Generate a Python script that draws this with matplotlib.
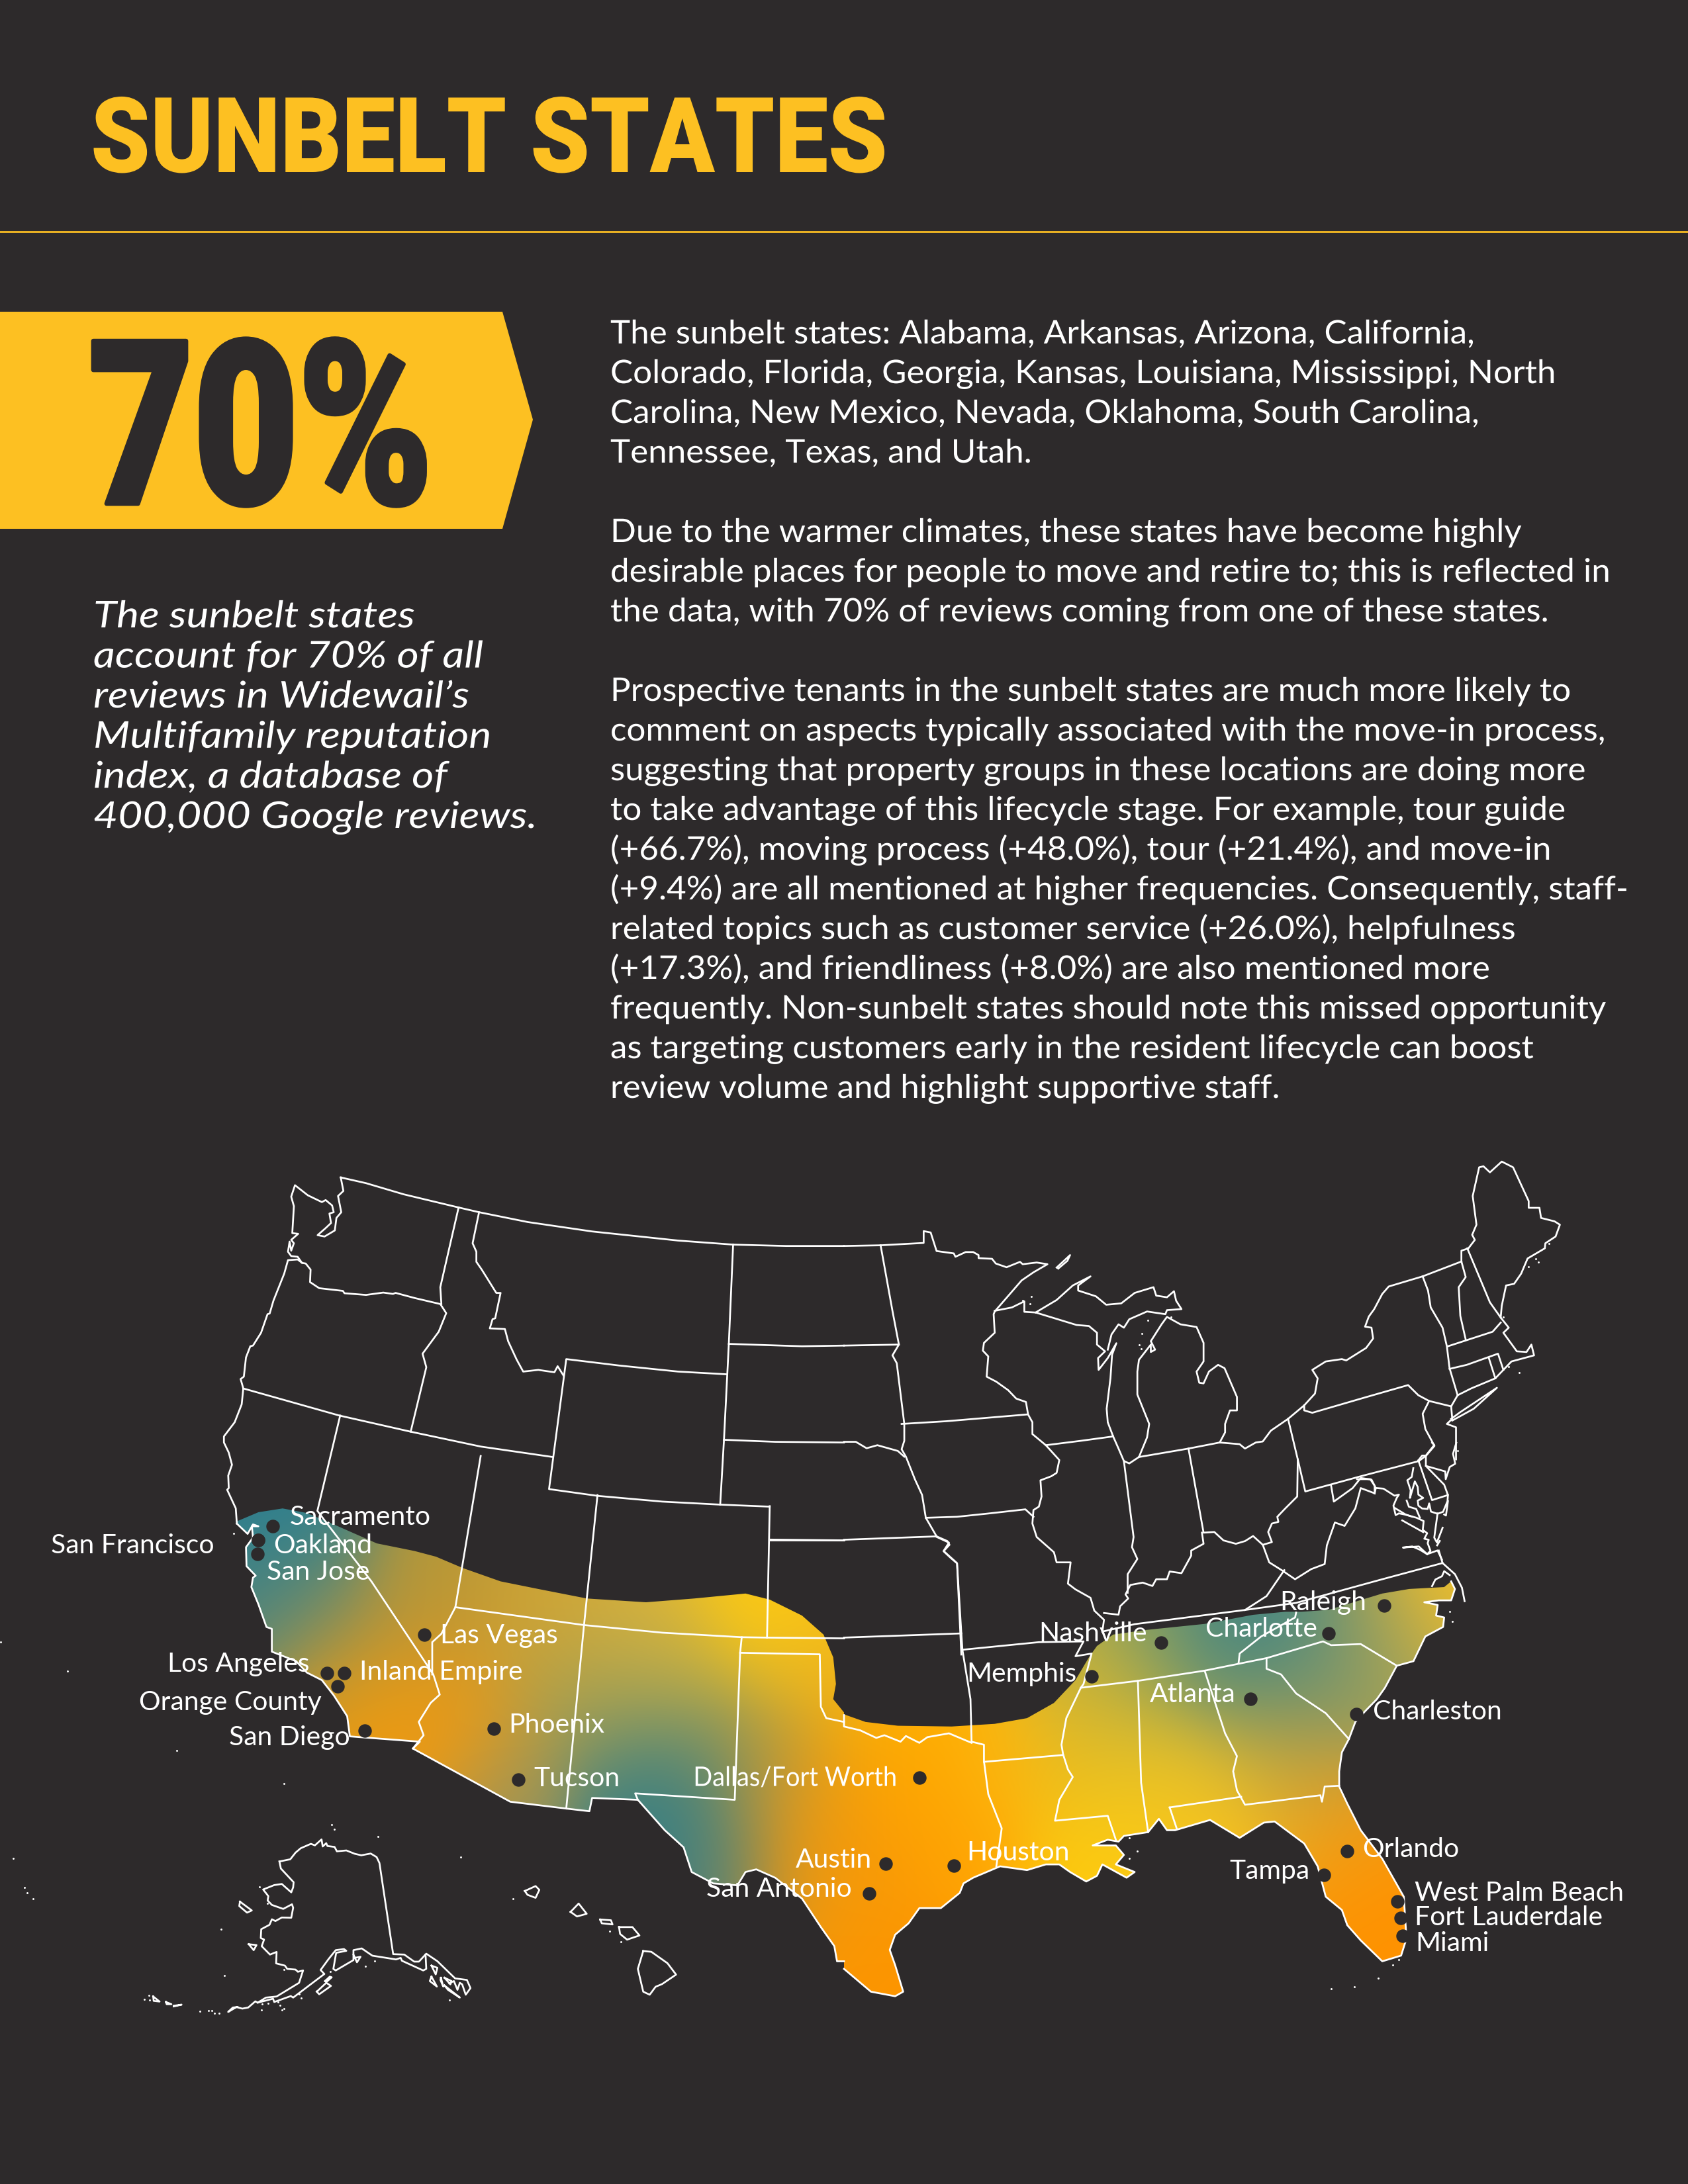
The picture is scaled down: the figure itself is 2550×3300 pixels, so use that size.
import numpy as np
import matplotlib
matplotlib.use("Agg")
from matplotlib import pyplot as plt
from matplotlib.patches import PathPatch, Polygon
from matplotlib.patheffects import AbstractPathEffect
from matplotlib.path import Path
from matplotlib.transforms import Affine2D

BACKGROUND = "#2d2a2b"
GOLD = "#fdc022"

TITLE = "SUNBELT STATES"
BIG_NUMBER = "70%"

BODY_LINES = [
    "The sunbelt states: Alabama, Arkansas, Arizona, California,",
    "Colorado, Florida, Georgia, Kansas, Louisiana, Mississippi, North",
    "Carolina, New Mexico, Nevada, Oklahoma, South Carolina,",
    "Tennessee, Texas, and Utah.",
    "",
    "Due to the warmer climates, these states have become highly",
    "desirable places for people to move and retire to; this is reflected in",
    "the data, with 70% of reviews coming from one of these states.",
    "",
    "Prospective tenants in the sunbelt states are much more likely to",
    "comment on aspects typically associated with the move-in process,",
    "suggesting that property groups in these locations are doing more",
    "to take advantage of this lifecycle stage. For example, tour guide",
    "(+66.7%), moving process (+48.0%), tour (+21.4%), and move-in",
    "(+9.4%) are all mentioned at higher frequencies. Consequently, staff-",
    "related topics such as customer service (+26.0%), helpfulness",
    "(+17.3%), and friendliness (+8.0%) are also mentioned more",
    "frequently. Non-sunbelt states should note this missed opportunity",
    "as targeting customers early in the resident lifecycle can boost",
    "review volume and highlight supportive staff.",
]

CALLOUT_LINES = [
    "The sunbelt states",
    "account for 70% of all",
    "reviews in Widewail\u2019s",
    "Multifamily reputation",
    "index, a database of",
    "400,000 Google reviews.",
]

# Map outlines, digitised on survey sheets (a, b: north, c, d: south, e: Alaska, f: Chesapeake)
# a: north-west
A_NORTH_BORDER = [(633,155),(680,172),(750,205),(852,244),(890,258),(980,287),(1100,315),(1260,342),(1362,354),(1460,358),(1568,358)]
A_WA_COAST = [(633,155),(638,195),(628,210),(634,258),(625,275),(622,312),(603,330),(590,326),(605,305),(615,290),(612,262),(620,258),(617,238),(605,222),(598,228),(572,208),(548,178),(541,212),(546,240),(543,320),(554,322),(541,340),(546,350),(541,372),(538,345),(535,375),(541,388),(553,390),(561,408),(568,410),(577,428),(576,465),(593,483),(637,491),(640,498),(680,503),(712,496),(730,500),(735,497),(770,512),(818,530),(829,557),(815,612),(785,677),(792,717),(763,908)]
A_OR_COAST = [(561,408),(553,398),(535,400),(528,440),(508,520),(501,558),(497,560),(485,615),(470,653),(465,655),(457,688),(453,745),(447,752),(452,780),(449,827),(436,880),(416,922),(416,940),(425,970),(431,1006),(424,1038),(425,1075),(422,1080),(438,1135),(440,1180)]
A_CA_NORTH = [(452,780),(630,860),(763,908),(893,952),(1027,983)]
A_WA_ID = [(852,244),(818,480),(820,530)]
A_ID_MT = [(890,258),(878,350),(885,375),(885,405),(895,428),(922,497),(930,497),(920,572),(915,575),(910,602),(938,604),(944,640),(960,695),(972,730),(1000,725),(1030,732),(1036,714),(1047,742)]
A_WYOMING = [(1350,738),(1260,730),(1150,712),(1052,693),(1020,1078),(1110,1098),(1230,1115),(1338,1124),(1430,1130)]
A_MT_DAKOTA = [(1362,354),(1354,648),(1345,932),(1338,1124)]
A_ND_SD = [(1354,648),(1490,655),(1568,653)]
A_SD_NE = [(1345,932),(1440,938),(1568,940)]
A_NE_KS = [(1430,1228),(1568,1228)]
A_CA_NV = [(632,860),(590,1140)]

# b: north-east
B_NORTH_BORDER = [(0,358),(68,356),(148,349),(148,314),(161,318),(172,373),(204,380),(207,390),(226,376),(240,376),(250,385),(250,394),(275,396),(282,410),(302,421),(327,405),(332,412),(358,407),(378,412),(352,436),(330,460),(280,552),(278,560),(280,615),(260,645),(258,668),(268,685),(265,745),(283,760),(305,785),(320,810),(338,820),(342,857),(350,880),(350,915),(375,948),(400,992),(395,1030),(385,1040),(365,1052),(367,1100),(362,1130),(352,1140),(350,1180),(358,1220),(390,1265),(395,1295),(421,1295),(416,1358),(430,1375),(458,1400),(465,1438),(483,1465),(480,1500)]
B_MN_WEST = [(68,356),(90,550),(102,650),(90,682),(98,705),(112,885),(112,935),(107,960),(115,982),(132,1050),(145,1095),(152,1163),(172,1218),(192,1232),(196,1243),(185,1262),(197,1280),(210,1298),(218,1568)]
B_ND_SD = [(0,653),(102,650)]
B_SD_NE = [(0,938),(22,938),(42,957),(62,948),(100,965),(112,982)]
B_IA_TOP = [(107,885),(190,877),(340,857)]
B_IA_BOTTOM = [(152,1163),(210,1160),(270,1150),(337,1138),(352,1160)]
B_KS_TOP = [(0,1228),(172,1218)]
B_WI_IL = [(375,948),(440,935),(500,922)]
B_WI_SHORE = [(500,922),(490,880),(488,840),(495,750),(498,680),(506,646),(490,690),(473,725),(472,690),(485,670),(470,650),(470,615),(455,595),(432,592),(356,555),(335,553),(335,522),(312,540),(280,550)]
B_UP_SHORE = [(356,555),(395,518),(425,475),(458,448),(435,475),(435,490),(468,507),(487,532),(515,528),(540,497),(575,480),(580,505),(600,510),(613,492),(617,520),(627,545),(600,548),(597,560),(563,552),(530,575),(520,600),(510,590),(497,620),(490,665)]
B_MI_EAST = [(500,922),(510,958),(520,995),(530,1002),(548,983),(563,925),(567,885),(545,798),(545,730),(548,695),(570,650),(570,672),(578,665),(570,640),(590,590),(600,568),(625,590),(655,598),(668,645),(668,700),(655,730),(660,763),(668,765),(678,730),(695,710),(707,720),(730,805),(730,845),(717,845),(708,885),(708,910),(698,940)]
B_IL_EAST = [(520,995),(538,1220),(535,1250),(545,1285),(527,1330),(527,1385)]
B_OHIO_RIVER = [(483,1445),(510,1450),(513,1425),(528,1402),(523,1390),(532,1362),(555,1355),(573,1365),(580,1345),(600,1345),(605,1322),(627,1327),(645,1275),(645,1260),(668,1240),(665,1207)]
B_MI_OH = [(548,983),(640,958),(698,940),(735,945),(745,958),(765,940),(778,937),(793,905),(825,870),(855,830),(875,795),(880,750),(870,725),(895,700),(925,693),(933,697),(970,660),(983,632),(980,600),(968,597),(975,567),(985,545),(1000,500),(1012,478),(1075,448),(1147,404)]
B_IN_OH = [(640,958),(668,1207),(688,1205),(705,1230),(728,1240),(745,1232),(760,1217),(778,1243)]
B_PA_TOP = [(855,830),(855,845),(870,852),(967,807),(1048,770),(1067,800),(1087,817),(1128,833)]
B_PA_WEST = [(825,870),(843,990),(857,1085),(960,1040),(1068,995)]
B_PA_EAST = [(1087,817),(1075,855),(1080,900),(1097,950),(1082,978),(1068,995)]
B_OH_WV = [(843,990),(842,1100),(820,1135),(805,1160),(807,1175),(795,1180),(788,1205),(795,1235),(778,1243),(790,1295),(815,1320),(838,1345),(868,1315),(893,1300),(897,1245),(912,1177),(930,1187),(950,1135),(960,1075),(985,1090)]
B_MD_WV = [(905,1068),(910,1115),(945,1075),(960,1045),(980,1050),(988,1075)]
B_VA_KY = [(818,1318),(785,1395),(745,1436)]
B_VA_NC = [(480,1500),(540,1478),(745,1436),(840,1415),(1000,1345),(1112,1297)]
B_OUTER_BANKS = [(1105,1260),(1112,1297),(1135,1330),(1148,1370),(1153,1410)]
B_NJ_COAST = [(1128,833),(1130,870),(1120,885),(1137,895),(1137,990)]
B_NY_NE = [(1140,800),(1125,720),(1120,655),(1112,600),(1090,540),(1085,490),(1075,448)]
B_VT_NH = [(1147,404),(1155,450),(1142,480),(1145,565),(1155,635)]
B_MA_TOP = [(1122,655),(1205,612),(1220,585)]
B_MA_BOTTOM = [(1125,722),(1157,710),(1215,677),(1225,725)]
B_RI_CT = [(1198,690),(1210,750)]
B_MAINE = [(1147,404),(1147,372),(1160,365),(1172,340),(1167,325),(1175,295),(1168,210),(1180,125),(1188,122),(1200,140),(1222,108),(1243,125),(1272,225),(1272,245),(1292,245),(1295,275),(1320,285),(1330,295),(1322,330),(1303,350),(1302,365),(1270,395),(1258,440),(1245,470),(1230,475),(1222,535),(1220,570),(1235,600),(1225,615),(1250,670),(1268,672),(1277,650),(1282,682),(1240,700),(1225,725),(1210,750),(1165,780),(1140,800),(1128,833)]
B_NH_ME = [(1158,365),(1200,525),(1220,570)]
B_LONG_ISLAND = [(1128,870),(1145,850),(1213,778),(1170,840),(1130,875)]
B_ISLE_ROYALE = [(395,422),(420,385),(415,402),(398,425)]
B_SPECKS = [(565,578),(553,618),(548,650),(552,662),(348,508),(332,520),(345,530),(608,568),(1225,568),(1235,715),(1255,733),(1285,395),(1272,420),(1290,405),(1310,350),(1140,965)]

# c: south-west
C_CA_EAST = [(590,145),(606,175),(690,330),(805,575),(817,628),(800,650),(778,700),(787,735),(767,770)]
C_NV_EAST = [(893,0),(846,398),(820,468),(803,490),(803,575)]
C_CO_SOUTH = [(846,398),(1085,445),(1230,465),(1378,477),(1425,478),(1568,480)]
C_UT_CO = [(1110,103),(1085,445),(1052,928)]
C_CO_EAST = [(1430,132),(1425,478)]
C_KS_TOP = [(1430,220),(1568,222)]
C_NM_EAST = [(1378,477),(1375,518),(1365,905),(1180,888),(1185,905)]
C_PANHANDLE = [(1375,518),(1523,522),(1525,660),(1535,690),(1568,700)]
C_HI_BIG = [(1195,1303),(1210,1305),(1240,1335),(1256,1365),(1230,1390),(1218,1397),(1207,1418),(1195,1410),(1185,1350),(1195,1303)]
C_HI_MAUI = [(1150,1240),(1175,1240),(1188,1262),(1165,1273),(1152,1258),(1150,1240)]
C_HI_MOLOKAI = [(1115,1220),(1135,1222),(1138,1233),(1118,1230),(1115,1220)]
C_HI_OAHU = [(1060,1200),(1075,1178),(1090,1205),(1072,1212),(1060,1200)]
C_HI_KAUAI = [(975,1145),(995,1132),(1002,1142),(995,1163),(980,1155),(975,1145)]
C_SPECKS = [(25,1060),(50,1150),(45,1135),(62,1165),(125,567),(328,775),(527,862),(434,204),(1,490),(953,1165),(1133,1250),(1153,1278)]

# d: south-east
D_MO_WEST = [(172,213),(195,228),(185,250),(210,282),(218,467),(220,510),(235,640),(237,752),(260,760),(260,803),(268,890),(293,980),(283,1080)]
D_KS_OK = [(0,478),(218,467)]
D_MO_BOOT = [(220,510),(362,490),(445,488),(430,527),(460,520),(445,600),(440,610),(413,690),(404,760),(407,785),(416,825),(425,845),(400,905),(392,960),(490,947),(505,1010)]
D_RED_RIVER = [(0,682),(0,712),(30,722),(60,742),(75,735),(105,752),(115,737),(140,755),(155,740),(195,730),(237,755)]
D_AR_LA = [(260,805),(407,787)]
D_TN_SOUTH = [(440,610),(545,592),(670,565),(785,532),(890,488),(905,498),(960,495),(1027,552)]
D_TN_NC = [(733,545),(735,520),(775,475),(838,425),(840,412)]
D_MS_AL = [(546,592),(552,860),(565,990)]
D_AL_GA = [(670,565),(708,730),(730,790),(723,830),(730,880),(745,918),(885,893),(888,910),(893,870),(920,868)]
D_AL_FL = [(605,925),(738,897)]
D_FL_PANHANDLE = [(605,925),(618,980)]
D_GA_SC = [(785,532),(785,560),(812,575),(840,625),(895,677),(938,745)]
D_COAST = [(1128,330),(1135,350),(1128,380),(1105,380),(1078,385),(1103,392),(1100,420),(1115,425),(1113,450),(1080,475),(1058,540),(1027,552),(1005,610),(990,640),(968,672),(950,700),(938,745),(925,780),(920,830),(920,870),(935,915),(960,985),(1000,1060),(1040,1160),(1045,1270),(1035,1315),(1000,1330),(960,1275),(935,1235),(925,1195),(895,1160),(880,1080),(855,1020),(800,962),(780,965),(735,1005),(680,958),(615,985),(600,985),(585,955),(565,990),(520,1000),(510,1015),(490,1010),(462,1025),(505,1025),(520,1050),(505,1075),(540,1095),(525,1110),(480,1075),(470,1105),(450,1120),(420,1095),(400,1075),(375,1075),(340,1090),(290,1080),(240,1110),(222,1125),(215,1150),(180,1190),(140,1190),(120,1230),(95,1260),(85,1300),(95,1340),(110,1410),(95,1422),(50,1410),(0,1350)]
C_COAST = [(1568,1330),(1555,1330),(1550,1290),(1525,1240),(1490,1165),(1440,1110),(1405,1088),(1385,1095),(1370,1130),(1325,1125),(1285,1095),(1270,1030),(1235,985),(1185,905),(1100,900),(1095,935),(1052,928),(948,910),(767,770),(780,752),(650,738),(645,685),(620,630),(598,590),(570,570),(550,540),(505,515),(505,455),(495,450),(480,390),(467,345),(470,320),(475,315),(458,290),(457,240),(470,215),(468,185),(480,185),(470,180),(460,205),(440,178)]
D_SPECKS = [(905,1403),(948,1397),(992,1375),(1020,1340),(1030,1325),(1125,410),(1130,435),(530,1005),(545,1040),(530,1060)]

# e: Alaska
E_NORTH = [(622,218),(668,208),(690,178),(712,158),(755,138),(772,145),(800,118),(805,150),(820,135),(825,148),(855,152),(865,172),(905,168),(940,183),(968,190),(1008,182),(1033,198),(1045,225),(1103,638),(1150,640),(1192,672),(1212,672),(1243,636),(1290,670),(1365,748),(1415,755),(1430,792),(1410,822),(1395,775),(1385,768),(1375,800),(1360,760),(1340,770)]
E_WEST = [(622,218),(628,250),(682,312),(680,335),(672,358),(632,320),(600,325),(553,345),(575,375),(572,395),(590,415),(638,433),(675,412),(680,428),(672,473),(632,472),(605,488),(590,480),(580,505),(545,525),(543,565),(557,572),(547,602),(582,640),(610,628),(608,680),(645,690),(655,705),(690,708),(700,718),(722,712),(705,768),(610,830),(565,835),(530,858),(595,840),(600,855),(670,828),(680,835),(760,770),(812,728),(796,710),(830,660),(860,620),(895,615),(905,623),(862,632),(850,705),(860,712),(935,665),(935,620),(970,612),(1015,645),(1115,662),(1135,655),(1140,668),(1230,712),(1243,705),(1240,640)]
E_PENINSULA = [(530,858),(520,852),(490,880),(465,885),(440,878),(405,900),(425,880),(445,878)]
E_KODIAK = [(780,808),(820,768),(840,782),(790,820),(780,808)]
E_AFOGNAK = [(815,760),(835,740),(843,743),(820,765),(815,760)]
E_ST_LAWRENCE = [(455,400),(505,440),(485,450),(452,420),(455,400)]
E_NUNIVAK = [(492,593),(525,597),(513,620),(492,593)]
E_ISLE_1 = [(1265,690),(1290,700),(1283,730),(1265,690)]
E_ISLE_2 = [(1265,740),(1288,785),(1258,760),(1265,740)]
E_ISLE_3 = [(1305,745),(1315,785),(1303,755),(1305,745)]
E_ISLE_4 = [(1320,745),(1350,760),(1345,775),(1320,745)]
E_ISLE_5 = [(1320,780),(1385,835),(1335,800),(1320,780)]
E_ATTU = [(175,872),(208,867),(175,875)]
E_ADAK = [(88,830),(115,853),(90,850),(88,830)]
E_ATKA = [(142,855),(165,865),(145,865),(142,855)]
E_PRINCE = [(935,640),(950,675),(965,650),(940,655)]
E_SPECKS = [(50,843),(70,825),(72,845),(285,898),(322,895),(335,893),(347,907),(368,907),(545,892),(550,865),(575,862),(615,855),(625,870),(640,885),(632,892),(705,820),(713,838),(985,693),(1025,668),(390,736),(375,525),(538,333),(572,408),(640,708),(838,718),(1342,845),(843,50),(855,73),(1040,105),(1388,197)]

# f: Chesapeake
F_DELAWARE = [(278,80),(340,260),(412,237),(395,190),(312,105),(312,58),(350,10),(340,0)]
F_DE_TOP = [(278,80),(295,58),(312,58)]
F_NJ_SOUTH = [(450,0),(435,50),(445,95),(420,110),(402,165),(400,130),(312,105)]
F_BAY_UPPER = [(255,115),(248,155),(228,170),(243,215),(240,250),(262,175),(275,200),(278,235),(300,250),(275,262),(278,285),(295,298),(320,300),(327,275),(335,312),(365,322),(390,313),(410,265),(412,237)]
F_CAPE = [(365,320),(350,430),(362,452),(388,385)]
F_CAPE_EAST = [(395,325),(403,330),(412,265)]
F_CAPE_TIP = [(375,445),(363,465)]
F_WEST_SHORE = [(80,230),(85,205),(120,208),(170,240),(190,235),(180,250),(165,285),(175,328),(190,320),(215,325),(270,340),(302,355),(298,395),(318,410),(305,435),(325,440),(320,455),(333,490),(318,505),(285,485),(250,470),(208,475),(280,470),(318,505),(365,488),(385,530)]
F_RIVER_1 = [(225,262),(235,290),(268,300),(285,340)]
F_RIVER_2 = [(205,352),(300,405)]
F_RIVER_3 = [(170,295),(220,325),(250,335)]
F_TOP_LEFT = [(0,165),(60,165),(80,195),(80,230)]
F_ALBEMARLE = [(340,650),(355,620),(385,605),(395,582),(420,600)]

# northern edge of the shaded sunbelt, sheets c and d
C_BELT_NORTH = [(440,172),(480,148),(525,138),(570,150),(620,180),(700,230),(770,250),(810,265),(860,295),(930,330),(1000,350),(1090,375),(1200,385),(1290,375),(1385,362),(1430,378),(1490,420),(1530,470),(1548,530),(1553,600),(1548,640),(1568,675)]
D_BELT_NORTH = [(0,680),(40,700),(100,710),(200,712),(280,705),(340,690),(390,650),(430,590),(455,530),(470,500),(500,470),(560,458),(670,442),(760,418),(820,410),(850,410),(900,405),(1000,362),(1050,350),(1115,345),(1128,330)]

# shading stops: x, y, colour
C_SHADE = [(470,190,"#267c92"),(530,170,"#2a7f92"),(480,330,"#55867a"),(600,400,"#86905c"),(800,300,"#b69838"),
           (800,500,"#c49530"),(660,620,"#d59a22"),(760,720,"#ff9a00"),(850,720,"#ef9d18"),(930,870,"#97935c"),
           (1000,420,"#d0a535"),(1200,460,"#d8b23e"),(1400,400,"#ffcc10"),(1520,560,"#efb820"),(1230,620,"#b2a84f"),
           (1060,650,"#a8a050"),(1200,800,"#4f8278"),(1230,930,"#227c8f"),(1330,1060,"#588275"),(1400,800,"#9b9750"),
           (1500,900,"#e49a1c"),(1530,1100,"#ef9a10")]
D_SHADE = [(30,1000,"#ff9800"),(100,850,"#ffa500"),(100,720,"#ffb000"),(300,800,"#fdb90f"),(200,1000,"#ffa403"),
           (60,1300,"#fd9500"),(480,1040,"#ffcc0c"),(470,800,"#e8bf22"),(480,620,"#c2b03c"),(600,500,"#97a55a"),
           (620,800,"#dcbd30"),(600,950,"#fdca18"),(710,930,"#fdc51e"),(760,470,"#227c92"),(700,510,"#4a8580"),
           (850,570,"#6d9372"),(880,440,"#4c8a86"),(780,700,"#a9a24e"),(860,820,"#c9a03a"),(1000,600,"#a5a355"),
           (1050,420,"#d4ae3b"),(1120,350,"#ffc822"),(920,1000,"#f59c12"),(1000,1200,"#ff9200"),(960,470,"#8a9a68")]

CITY_NAMES = ["Sacramento", "San Francisco", "Oakland", "San Jose", "Las Vegas", "Los Angeles", "Inland Empire",
              "Orange County", "San Diego", "Phoenix", "Tucson", "Dallas/Fort Worth", "Austin", "San Antonio"]
CITY_DOTS = [(507,184),(480,222),(480,222),(478,258),(788,470),(608,572),(640,572),
             (627,607),(678,723),(918,718),(963,851),(1708,847),(1645,1073),(1615,1152)]
CITY_LABELS = [(538,158),(398,232),(508,232),(495,302),(818,470),(575,545),(668,565),
               (597,645),(650,737),(945,705),(992,845),(1288,845),(1478,1060),(1312,1137)]
CITY_RIGHT = ["San Francisco", "Los Angeles", "Orange County", "San Diego"]

EAST_NAMES = ["Houston", "Memphis", "Nashville", "Atlanta", "Charlotte", "Raleigh", "Charleston",
              "Orlando", "Tampa", "West Palm Beach", "Fort Lauderdale", "Miami"]
EAST_DOTS = [(204,1079),(460,580),(589,491),(755,640),(900,466),(1004,393),(952,680),
             (935,1040),(892,1102),(1028,1173),(1034,1216),(1038,1263)]
EAST_LABELS = [(228,1040),(228,570),(362,465),(568,625),(672,452),(810,382),(982,670),
               (963,1032),(716,1090),(1060,1147),(1060,1212),(1062,1280)]


class Squeeze(AbstractPathEffect):
    # the installed fonts are wider or narrower than the original, scale x around the left edge
    def __init__(self, x0, sx, stroke=0.0):
        super().__init__()
        self.x0 = x0
        self.sx = sx
        self.stroke = stroke

    def draw_path(self, renderer, gc, tpath, affine, rgbFace=None):
        scale = Affine2D().translate(-self.x0, 0).scale(self.sx, 1).translate(self.x0, 0)
        if self.stroke:
            gc0 = renderer.new_gc()
            gc0.copy_properties(gc)
            gc0.set_foreground(rgbFace)
            gc0.set_linewidth(self.stroke)
            renderer.draw_path(gc0, tpath, affine + scale, rgbFace)
            gc0.restore()
        else:
            renderer.draw_path(gc, tpath, affine + scale, rgbFace)


def sheet(points, name):
    x0, y0, sx, sy = {"a": (0, 1700, 1.2298, 1.96), "b": (1275, 1700, 1.2298, 1.96),
                      "c": (0, 2200, 1.2298, 1.742), "d": (1275, 2200, 1.2298, 1.742),
                      "e": (200, 2740, 2.8, 3.0), "f": (2050, 2180, 3.0, 3.0)}[name]
    pts = np.asarray(points, dtype=float)
    return np.column_stack((x0 + pts[:, 0] / sx, y0 + pts[:, 1] / sy))


def shaded_image(ax, belt):
    stops = [(*sheet([p[:2]], "c")[0], p[2]) for p in C_SHADE]
    stops += [(*sheet([p[:2]], "d")[0], p[2]) for p in D_SHADE]
    sx = np.array([s[0] for s in stops])
    sy = np.array([s[1] for s in stops])
    rgb = np.array([matplotlib.colors.to_rgb(s[2]) for s in stops])

    extent = (340, 2230, 3040, 2240)
    gx, gy = np.meshgrid(np.linspace(extent[0], extent[1], 630),
                         np.linspace(extent[3], extent[2], 270))
    dist2 = (gx[..., None] - sx) ** 2 + (gy[..., None] - sy) ** 2
    weight = np.exp(-dist2 / (2 * 80.0 ** 2)) + 1e-200
    image = (weight[..., None] * rgb).sum(axis=2) / weight.sum(axis=2, keepdims=True)

    shown = ax.imshow(image, extent=extent, aspect="auto", interpolation="bicubic", zorder=2)
    clip = PathPatch(Path(belt), transform=ax.transData, facecolor="none", edgecolor="none")
    ax.add_patch(clip)
    shown.set_clip_path(clip)


def main():
    fig = plt.figure(figsize=(8.5, 11), dpi=300, facecolor=BACKGROUND)
    ax = fig.add_axes([0, 0, 1, 1])
    ax.set_facecolor(BACKGROUND)
    ax.axis("off")

    # heading and rule
    ax.text(137, 260, TITLE, color=GOLD, fontsize=38, family="Roboto", fontweight=900, va="baseline",
            path_effects=[Squeeze(137, 0.908)])
    ax.plot([0, 2550], [350, 350], color=GOLD, lw=0.65, zorder=1)

    # arrow banner
    ax.add_patch(Polygon([(0, 471), (759, 471), (805, 634), (759, 799), (0, 799)], closed=True,
                         facecolor=GOLD, edgecolor="none", zorder=1))
    ax.text(134, 761, BIG_NUMBER, color=BACKGROUND, fontsize=83, family="Roboto", fontweight=900,
            va="baseline", zorder=3, path_effects=[Squeeze(134, 0.79, stroke=1.6)])

    # left callout
    for i, line in enumerate(CALLOUT_LINES):
        ax.text(141, 948 + i * 60.6, line, color="white", fontsize=13.4, family="Lato",
                style="italic", va="baseline", path_effects=[Squeeze(141, 1.15)])

    # body copy
    for i, line in enumerate(BODY_LINES):
        ax.text(922, 519 + i * 60, line, color="white", fontsize=11.8, family="Lato", va="baseline",
                path_effects=[Squeeze(922, 1.04)])

    # shaded belt
    belt = np.vstack((sheet(C_BELT_NORTH, "c"), sheet(D_BELT_NORTH, "d"),
                      sheet(D_COAST, "d"), sheet(C_COAST, "c")))
    shaded_image(ax, belt)

    # outlines
    style = {"color": "white", "lw": 0.65, "solid_joinstyle": "round", "zorder": 3}
    groups = {
        "a": [A_NORTH_BORDER, A_WA_COAST, A_OR_COAST, A_CA_NORTH, A_WA_ID, A_ID_MT, A_WYOMING, A_MT_DAKOTA,
              A_ND_SD, A_SD_NE, A_NE_KS, A_CA_NV],
        "b": [B_NORTH_BORDER, B_MN_WEST, B_ND_SD, B_SD_NE, B_IA_TOP, B_IA_BOTTOM, B_KS_TOP, B_WI_IL, B_WI_SHORE,
              B_UP_SHORE, B_MI_EAST, B_IL_EAST, B_OHIO_RIVER, B_MI_OH, B_IN_OH, B_PA_TOP, B_PA_WEST, B_PA_EAST,
              B_OH_WV, B_MD_WV, B_VA_KY, B_VA_NC, B_OUTER_BANKS, B_NJ_COAST, B_NY_NE,
              B_VT_NH, B_MA_TOP, B_MA_BOTTOM, B_RI_CT, B_MAINE, B_NH_ME, B_LONG_ISLAND, B_ISLE_ROYALE],
        "c": [C_CA_EAST, C_NV_EAST, C_CO_SOUTH, C_UT_CO, C_CO_EAST, C_KS_TOP, C_NM_EAST, C_PANHANDLE,
              C_HI_BIG, C_HI_MAUI, C_HI_MOLOKAI, C_HI_OAHU, C_HI_KAUAI, C_COAST],
        "d": [D_MO_WEST, D_KS_OK, D_MO_BOOT, D_RED_RIVER, D_AR_LA, D_TN_SOUTH, D_TN_NC, D_MS_AL, D_AL_GA, D_AL_FL,
              D_FL_PANHANDLE, D_GA_SC, D_COAST],
        "e": [E_NORTH, E_WEST, E_PENINSULA, E_KODIAK, E_AFOGNAK, E_ST_LAWRENCE, E_NUNIVAK, E_ISLE_1, E_ISLE_2,
              E_ISLE_3, E_ISLE_4, E_ISLE_5, E_ATTU, E_ADAK, E_ATKA, E_PRINCE],
        "f": [F_DELAWARE, F_DE_TOP, F_NJ_SOUTH, F_BAY_UPPER, F_CAPE, F_CAPE_EAST, F_CAPE_TIP, F_WEST_SHORE,
              F_RIVER_1, F_RIVER_2, F_RIVER_3, F_TOP_LEFT, F_ALBEMARLE],
    }
    for name, lines in groups.items():
        for line in lines:
            pts = sheet(line, name)
            ax.plot(pts[:, 0], pts[:, 1], **style)

    for specks, name in ((B_SPECKS, "b"), (C_SPECKS, "c"), (D_SPECKS, "d"), (E_SPECKS, "e")):
        pts = sheet(specks, name)
        ax.scatter(pts[:, 0], pts[:, 1], s=0.5, color="white", linewidths=0, zorder=3)

    # cities
    label = {"color": "white", "fontsize": 9.8, "family": "Lato", "va": "center", "zorder": 6}
    west = sheet(CITY_DOTS, "c")
    ax.scatter(west[:, 0], west[:, 1], s=24, color=BACKGROUND, linewidths=0, zorder=5)
    for name, (x, y) in zip(CITY_NAMES, sheet(CITY_LABELS, "c")):
        effects = [Squeeze(x, 0.93)] if name == "Dallas/Fort Worth" else []
        ax.text(x, y + 2, name, ha="right" if name in CITY_RIGHT else "left", path_effects=effects, **label)

    east = sheet(EAST_DOTS, "d")
    ax.scatter(east[:, 0], east[:, 1], s=24, color=BACKGROUND, linewidths=0, zorder=5)
    for name, (x, y) in zip(EAST_NAMES, sheet(EAST_LABELS, "d")):
        ax.text(x, y + 2, name, ha="left", **label)

    ax.set_xlim(0, 2550)
    ax.set_ylim(3300, 0)
    fig.savefig("out.png", dpi=300, facecolor=BACKGROUND)


if __name__ == "__main__":
    main()
